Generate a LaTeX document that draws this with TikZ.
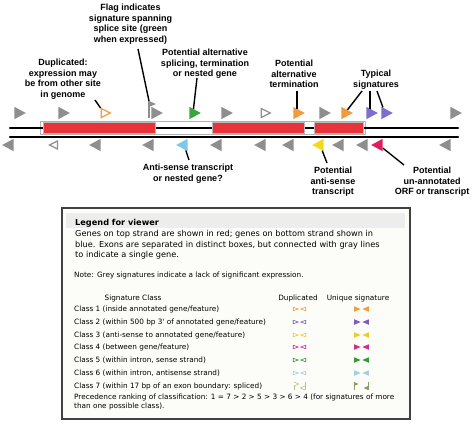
\documentclass[tikz,border=0pt]{standalone}
\usepackage{fontspec}
\newfontfamily\annfont{Liberation Sans}
\newfontfamily\legfont{DejaVu Sans}
\usetikzlibrary{shapes.geometric}

\definecolor{siggray}{HTML}{8E8E8E}
\definecolor{sigorange}{HTML}{F39A3C}
\definecolor{siggreen}{HTML}{3DA53D}
\definecolor{sigpurple}{HTML}{7C6FD0}
\definecolor{sigblue}{HTML}{7CC8EC}
\definecolor{sigyellow}{HTML}{F2DC1A}
\definecolor{sigmagenta}{HTML}{E31C5F}
\definecolor{exonred}{HTML}{E8333A}
\definecolor{legbg}{HTML}{FCFCF8}
\definecolor{legband}{HTML}{EDEDED}
\definecolor{cone}{HTML}{F0A040}
\definecolor{ctwo}{HTML}{7A5FC0}
\definecolor{cthree}{HTML}{E6D030}
\definecolor{cfour}{HTML}{D0308A}
\definecolor{cfive}{HTML}{3A9A3A}
\definecolor{csix}{HTML}{A8CCE0}
\definecolor{cseven}{HTML}{A8C880}

\tikzset{
  note/.style={font=\annfont\bfseries\fontsize{9}{10.6}\selectfont, align=center, anchor=north, inner sep=0pt},
  ptr/.style={line width=1.4pt},
  tri/.style={isosceles triangle, isosceles triangle stretches, inner sep=0pt},
  sigtop/.style={tri, minimum width=12.5pt, minimum height=11.5pt, fill=#1},
  sigtop/.default=siggray,
  sigbot/.style={tri, shape border rotate=180, minimum width=12.5pt, minimum height=11.5pt, fill=#1},
  sigbot/.default=siggray,
  holtop/.style={tri, minimum width=9pt, minimum height=9pt, draw=#1, fill=white, line width=1.3pt},
  holbot/.style={tri, shape border rotate=180, minimum width=8pt, minimum height=8pt, draw=#1, fill=white, line width=1.3pt},
  strand/.style={line width=2.2pt, line cap=round},
  exon/.style={fill=exonred, draw=gray!55, line width=0.5pt},
  legbig/.style={font=\legfont\fontsize{8.2}{10}\selectfont, anchor=base west, inner sep=0pt},
  legtxt/.style={font=\legfont\fontsize{7.3}{9}\selectfont, anchor=base west, inner sep=0pt},
  dupr/.style={tri, minimum width=3.5pt, minimum height=5pt, draw=#1, fill=white, line width=0.6pt},
  dupl/.style={tri, shape border rotate=180, minimum width=3.5pt, minimum height=5pt, draw=#1, fill=white, line width=0.6pt},
  unir/.style={tri, minimum width=5.5pt, minimum height=6.5pt, fill=#1},
  unil/.style={tri, shape border rotate=180, minimum width=5.5pt, minimum height=6.5pt, fill=#1}
}

\begin{document}
\begin{tikzpicture}[x=1pt, y=-1pt]
    \useasboundingbox[fill=white] (0,0) rectangle (474,424);

    % gene model
    \draw[fill=white, draw=gray!60, line width=0.8pt] (40,121) rectangle (365,134);
    \draw[strand] (10,128) -- (458,128);
    \draw[strand] (10,137) -- (458,137);
    \draw[exon] (43,122.5) rectangle (155,133);
    \draw[exon] (212,122.5) rectangle (304,133);
    \draw[exon] (314,122.5) rectangle (363,133);

    % top strand signatures
    \node[sigtop] (t1) at (18,113) {};
    \node[sigtop] (t2) at (62,113) {};
    \node[holtop=sigorange] (t3) at (104,113) {};
    \node[sigtop] (t4) at (155,113) {};
    \node[sigtop=siggreen] (t5) at (193,113) {};
    \node[sigtop] (t6) at (225,113) {};
    \node[holtop=siggray] (t7) at (264,113) {};
    \node[sigtop=sigorange] (t8) at (297,113) {};
    \node[sigtop] (t9) at (323,113) {};
    \node[sigtop=sigorange] (t10) at (345,113) {};
    \node[sigtop=sigpurple] (t11) at (370,113) {};
    \node[sigtop=sigpurple] (t12) at (385,113) {};
    \node[sigtop] (t13) at (454,113) {};

    % flag on t4
    \coordinate (flagtop) at (149,101);
    \draw[siggray, line width=1.2pt] (flagtop) -- (149,118);
    \fill[siggray] (flagtop) -- (156,104) -- (149,107) -- cycle;

    % bottom strand signatures
    \node[sigbot] (b1) at (10,145) {};
    \node[holbot=siggray] (b2) at (55,145) {};
    \node[sigbot] (b3) at (97,145) {};
    \node[sigbot] (b4) at (150,145) {};
    \node[sigbot=sigblue] (b5) at (184,145) {};
    \node[sigbot] (b6) at (218,145) {};
    \node[sigbot] (b7) at (262,145) {};
    \node[sigbot] (b8) at (290,145) {};
    \node[sigbot=sigyellow] (b9) at (320,145) {};
    \node[sigbot] (b10) at (340,145) {};
    \node[sigbot] (b11) at (364,145) {};
    \node[sigbot=sigmagenta] (b12) at (379,145) {};
    \node[sigbot] (b13) at (447,145) {};

    % annotations
    \node[note] (dup) at (63,58.7) {Duplicated:\\expression may\\be from other site\\in genome};
    \node[note] (flag) at (130.5,3.7) {Flag indicates\\signature spanning\\splice site (green\\when expressed)};
    \node[note] (splice) at (205,48.7) {Potential alternative\\splicing, termination\\or nested gene};
    \node[note] (term) at (294,59.7) {Potential\\alternative\\termination};
    \node[note] (typ) at (376,69.7) {Typical\\signatures};
    \node[note] (anti) at (188,163.7) {Anti-sense transcript\\or nested gene?};
    \node[note] (pas) at (333,166.7) {Potential\\anti-sense\\transcript};
    \node[note] (orf) at (432,166.7) {Potential\\un-annotated\\ORF or transcript};

    \coordinate (dupend) at (95,100);
    \coordinate (flagend) at (138,49);
    \coordinate (splend) at (197,78);
    \coordinate (termend) at (297,91);
    \coordinate (typa) at (362,91);
    \coordinate (typb) at (370,91);
    \coordinate (typc) at (377,91);
    \coordinate (antiend) at (189,160);
    \coordinate (pasend) at (327,163);
    \coordinate (orfend) at (404,165);

    \draw[ptr] (dupend) -- (t3);
    \draw[ptr] (flagend) -- (flagtop);
    \draw[ptr] (splend) -- (t5);
    \draw[ptr] (termend) -- (t8);
    \draw[ptr] (typa) -- (t10);
    \draw[ptr] (typb) -- (t11);
    \draw[ptr] (typc) -- (t12);
    \draw[ptr] (b5) -- (antiend);
    \draw[ptr] (b9) -- (pasend);
    \draw[ptr] (b12) -- (orfend);

    % legend
    \draw[fill=legbg, draw=black!75, line width=1.3pt] (62,208) rectangle (410,419);
    \fill[legband] (66,213) rectangle (405,228);
    \node[legbig, font=\legfont\bfseries\fontsize{8.2}{10}\selectfont] (lhead) at (75,225) {Legend for viewer};
    \node[legbig] (lg1) at (75,236) {Genes on top strand are shown in red; genes on bottom strand shown in};
    \node[legbig] (lg2) at (75,247) {blue. Exons are separated in distinct boxes, but connected with gray lines};
    \node[legbig] (lg3) at (75,257) {to indicate a single gene.};
    \node[legtxt] (lnote) at (74,277.5) {Note: Grey signatures indicate a lack of significant expression.};

    \node[legtxt, anchor=base] (hclass) at (133,300.5) {Signature Class};
    \node[legtxt, anchor=base] (hdup) at (298,300.5) {Duplicated};
    \node[legtxt, anchor=base] (huni) at (358,300.5) {Unique signature};

    \node[legtxt] (c1) at (74,311.5) {Class 1 (inside annotated gene/feature)};
    \node[legtxt] (c2) at (74,324.5) {Class 2 (within 500 bp 3' of annotated gene/feature)};
    \node[legtxt] (c3) at (74,337.5) {Class 3 (anti-sense to annotated gene/feature)};
    \node[legtxt] (c4) at (74,349.5) {Class 4 (between gene/feature)};
    \node[legtxt] (c5) at (74,362.5) {Class 5 (within intron, sense strand)};
    \node[legtxt] (c6) at (74,375.5) {Class 6 (within intron, antisense strand)};
    \node[legtxt] (c7) at (74,388.5) {Class 7 (within 17 bp of an exon boundary: spliced)};
    \node[legtxt] (prec1) at (74,399.5) {Precedence ranking of classification: 1 = 7 > 2 > 5 > 3 > 6 > 4 (for signatures of more};
    \node[legtxt] (prec2) at (74,408.5) {than one possible class).};

    \node[dupr=cone] (d1r) at (294.5,309) {};
    \node[dupl=cone] (d1l) at (304.5,309) {};
    \node[unir=cone] (u1r) at (356,309) {};
    \node[unil=cone] (u1l) at (367,309) {};
    \node[dupr=ctwo] (d2r) at (294.5,322) {};
    \node[dupl=ctwo] (d2l) at (304.5,322) {};
    \node[unir=ctwo] (u2r) at (356,322) {};
    \node[unil=ctwo] (u2l) at (367,322) {};
    \node[dupr=cthree] (d3r) at (294.5,335) {};
    \node[dupl=cthree] (d3l) at (304.5,335) {};
    \node[unir=cthree] (u3r) at (356,335) {};
    \node[unil=cthree] (u3l) at (367,335) {};
    \node[dupr=cfour] (d4r) at (294.5,347) {};
    \node[dupl=cfour] (d4l) at (304.5,347) {};
    \node[unir=cfour] (u4r) at (356,347) {};
    \node[unil=cfour] (u4l) at (367,347) {};
    \node[dupr=cfive] (d5r) at (294.5,360) {};
    \node[dupl=cfive] (d5l) at (304.5,360) {};
    \node[unir=cfive] (u5r) at (356,360) {};
    \node[unil=cfive] (u5l) at (367,360) {};
    \node[dupr=csix] (d6r) at (294.5,373) {};
    \node[dupl=csix] (d6l) at (304.5,373) {};
    \node[unir=csix] (u6r) at (356,373) {};
    \node[unil=csix] (u6l) at (367,373) {};

    % class 7 flags
    \draw[cseven, line width=0.7pt] (294,382) -- (294,390);
    \draw[cseven, line width=0.6pt, fill=white] (294,382) -- (298.5,384) -- (294,386);
    \draw[cseven, line width=0.7pt] (305,382) -- (305,390);
    \draw[cseven, line width=0.6pt, fill=white] (305,386) -- (300.5,388) -- (305,390);
    \draw[cseven!80!black, line width=0.7pt] (354,382) -- (354,390);
    \fill[cseven!80!black] (354,382) -- (358.5,384) -- (354,386) -- cycle;
    \draw[cseven!80!black, line width=0.7pt] (368,382) -- (368,390);
    \fill[cseven!80!black] (368,386) -- (363.5,388) -- (368,390) -- cycle;
\end{tikzpicture}
\end{document}
